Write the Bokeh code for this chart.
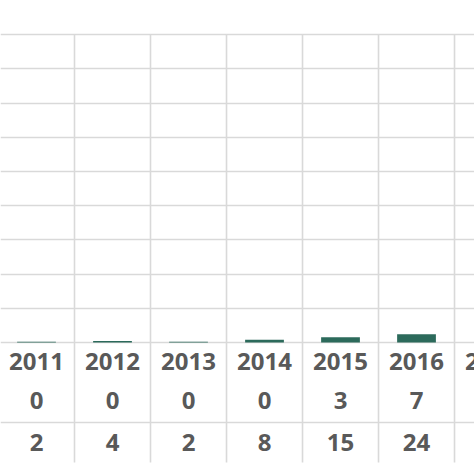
from bokeh.plotting import figure
from bokeh.models import Range1d, FixedTicker, Span, ColumnDataSource
from bokeh.core.properties import value
from bokeh.embed import file_html
from bokeh.resources import INLINE

# ---- data ----
years = ["2011", "2012", "2013", "2014", "2015", "2016", "2017"]
series_a = [0, 0, 0, 0, 3, 7]          # first table row
series_b = [2, 4, 2, 8, 15, 24]        # second table row (bars)
y_ticks = [0, 100, 200, 300, 400, 500, 600, 700, 800, 900]

# ---- layout constants ----
FONT = "Open Sans"
TXT = "#595959"
GRID = "#d9d9d9"
BAR_DARK = "#2c6a5b"
ROW_YEAR = -56
ROW_A = -170
ROW_B = -292
ROW_SEP = -234
TABLE_BOTTOM = -351

p = figure(width=474, height=474, output_backend="svg", toolbar_location=None,
           x_range=Range1d(-0.4737, 5.763), y_range=Range1d(-386, 1000),
           min_border=0, min_border_left=0, min_border_right=0,
           min_border_top=0, min_border_bottom=0)
p.axis.visible = False
p.outline_line_color = None
p.xgrid.visible = False
p.ygrid.ticker = FixedTicker(ticks=y_ticks)
p.ygrid.grid_line_color = GRID
p.ygrid.grid_line_width = 1.6
p.background_fill_color = "white"
p.border_fill_color = "white"

n = len(series_b)
xs = list(range(n))

# vertical separators of the columns / table
bx = [i + 0.5 for i in range(-1, len(years))]
p.segment(x0=bx, y0=[TABLE_BOTTOM] * len(bx), x1=bx, y1=[y_ticks[-1]] * len(bx),
          line_color=GRID, line_width=1.6)
p.add_layout(Span(location=ROW_SEP, dimension="width", line_color=GRID, line_width=1.6))

# bars
src = ColumnDataSource(dict(x=xs, b=series_b))
p.vbar(x="x", width=0.51, bottom=0, top="b", source=src,
       fill_color=BAR_DARK, line_color=None)

# data table texts
common = dict(text_font=value(FONT), text_font_style="bold", text_color=TXT,
              text_align="center", text_baseline="middle", text_font_size="24px")
p.text(x=list(range(len(years))), y=[ROW_YEAR] * len(years), text=years, **common)
p.text(x=xs, y=[ROW_A] * n, text=[str(v) for v in series_a], **common)
p.text(x=xs, y=[ROW_B] * n, text=[str(v) for v in series_b], **common)

open("out.html", "w").write(file_html(p, INLINE))
